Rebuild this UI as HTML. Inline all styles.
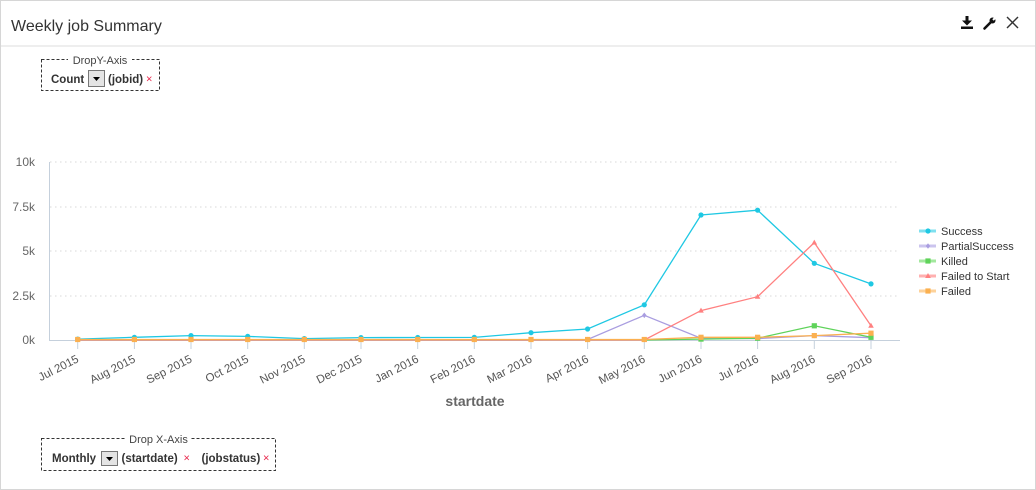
<!DOCTYPE html>
<html><head><meta charset="utf-8"><style>
html,body{margin:0;padding:0;background:#fff;}
body{width:1036px;height:490px;overflow:hidden;font-family:"Liberation Sans",Arial,sans-serif;}
svg{display:block;}
</style></head><body>
<svg width="1036" height="490" viewBox="0 0 1036 490" xmlns="http://www.w3.org/2000/svg" font-family="Liberation Sans, Arial, sans-serif">
<defs>
<circle id="mS" r="2.6" fill="#1fc8e3"/>
<path id="mP" d="M0,-2.8 L2.2,0 L0,2.8 L-2.2,0Z" fill="#a99de0"/>
<rect id="mK" x="-2.6" y="-2.6" width="5.2" height="5.2" fill="#5fd35a"/>
<path id="mF" d="M0,-3 L2.8,2 L-2.8,2Z" fill="#ff8080"/>
<rect id="mO" x="-2.6" y="-2.6" width="5.2" height="5.2" fill="#fbb050"/>
</defs>
<rect x="0.5" y="0.5" width="1035" height="489" fill="#fff" stroke="#d6d6d6"/>
<line x1="1" y1="46" x2="1035" y2="46" stroke="#dedede"/>
<text x="11" y="31" font-size="16" fill="#333">Weekly job Summary</text>
<!-- icons -->
<g fill="#111">
<rect x="961" y="26.5" width="12" height="2.5"/>
<rect x="965.5" y="16" width="3" height="5"/>
<path d="M962,20.5 L972,20.5 L967,25.5Z"/>
</g>
<g stroke="#111" fill="none">
<line x1="984.5" y1="28.5" x2="991" y2="22" stroke-width="2.6" stroke-linecap="round"/>
<circle cx="992.5" cy="20.5" r="3" fill="#111" stroke="none"/>
<line x1="993" y1="20" x2="996.5" y2="16.5" stroke="#fff" stroke-width="2"/>
</g>
<g stroke="#333" stroke-width="1.4">
<line x1="1007" y1="17" x2="1018" y2="28"/>
<line x1="1018" y1="17" x2="1007" y2="28"/>
</g>
<!-- Y drop box -->
<rect x="41.5" y="59.5" width="118" height="31" fill="none" stroke="#333" stroke-dasharray="3,2"/>
<rect x="68" y="55" width="64" height="10" fill="#fff"/>
<text x="100" y="64" font-size="11" fill="#444" text-anchor="middle">DropY-Axis</text>
<text x="51" y="83" font-size="11.5" font-weight="bold" fill="#333">Count</text>
<rect x="88.5" y="70.5" width="16" height="16" fill="#e4e4e4" stroke="#777"/>
<path d="M93,77 L100,77 L96.5,81Z" fill="#000"/>
<text x="108" y="83" font-size="11.5" font-weight="bold" fill="#333">(jobid)</text>
<text x="146" y="82.5" font-size="11" fill="#e8254a">×</text>
<!-- X drop box -->
<rect x="41.5" y="438.5" width="234" height="32" fill="none" stroke="#333" stroke-dasharray="3,2"/>
<rect x="126" y="433" width="65" height="11" fill="#fff"/>
<text x="158.5" y="443" font-size="11" fill="#444" text-anchor="middle">Drop X-Axis</text>
<text x="52" y="462" font-size="11.5" font-weight="bold" fill="#333">Monthly</text>
<rect x="101.5" y="451.5" width="16" height="14" fill="#e4e4e4" stroke="#777"/>
<path d="M106,457 L113,457 L109.5,461Z" fill="#000"/>
<text x="121.5" y="462" font-size="11.5" font-weight="bold" fill="#333">(startdate)</text>
<text x="183.5" y="461.5" font-size="11" fill="#e8254a">×</text>
<text x="201.5" y="462" font-size="11.5" font-weight="bold" fill="#333">(jobstatus)</text>
<text x="263" y="461.5" font-size="11" fill="#e8254a">×</text>
<!-- grid -->
<g stroke="#d8d8d8" stroke-dasharray="1.5,3.5">
<line x1="50" y1="162" x2="900" y2="162"/>
<line x1="50" y1="207" x2="900" y2="207"/>
<line x1="50" y1="251" x2="900" y2="251"/>
<line x1="50" y1="296" x2="900" y2="296"/>
</g>
<line x1="49.5" y1="162" x2="49.5" y2="340" stroke="#c5d0dc"/>
<line x1="49" y1="340.5" x2="900" y2="340.5" stroke="#c5d0dc"/>
<g stroke="#c5d0dc">
<line x1="77.7" y1="340" x2="77.7" y2="349"/><line x1="134.4" y1="340" x2="134.4" y2="349"/><line x1="191" y1="340" x2="191" y2="349"/><line x1="247.7" y1="340" x2="247.7" y2="349"/><line x1="304.3" y1="340" x2="304.3" y2="349"/><line x1="361" y1="340" x2="361" y2="349"/><line x1="417.7" y1="340" x2="417.7" y2="349"/><line x1="474.3" y1="340" x2="474.3" y2="349"/><line x1="531" y1="340" x2="531" y2="349"/><line x1="587.6" y1="340" x2="587.6" y2="349"/><line x1="644.3" y1="340" x2="644.3" y2="349"/><line x1="701" y1="340" x2="701" y2="349"/><line x1="757.6" y1="340" x2="757.6" y2="349"/><line x1="814.3" y1="340" x2="814.3" y2="349"/><line x1="871" y1="340" x2="871" y2="349"/>
</g>
<g font-size="12" fill="#666" text-anchor="end">
<text x="35" y="166">10k</text>
<text x="35" y="211">7.5k</text>
<text x="35" y="255">5k</text>
<text x="35" y="300">2.5k</text>
<text x="35" y="344">0k</text>
</g>
<g font-size="11.5" fill="#555" text-anchor="end">
<text transform="translate(79.5,361.5) rotate(-27)">Jul 2015</text>
<text transform="translate(136.2,361.5) rotate(-27)">Aug 2015</text>
<text transform="translate(192.8,361.5) rotate(-27)">Sep 2015</text>
<text transform="translate(249.5,361.5) rotate(-27)">Oct 2015</text>
<text transform="translate(306.1,361.5) rotate(-27)">Nov 2015</text>
<text transform="translate(362.8,361.5) rotate(-27)">Dec 2015</text>
<text transform="translate(419.5,361.5) rotate(-27)">Jan 2016</text>
<text transform="translate(476.1,361.5) rotate(-27)">Feb 2016</text>
<text transform="translate(532.8,361.5) rotate(-27)">Mar 2016</text>
<text transform="translate(589.4,361.5) rotate(-27)">Apr 2016</text>
<text transform="translate(646.1,361.5) rotate(-27)">May 2016</text>
<text transform="translate(702.8,361.5) rotate(-27)">Jun 2016</text>
<text transform="translate(759.4,361.5) rotate(-27)">Jul 2016</text>
<text transform="translate(816.1,361.5) rotate(-27)">Aug 2016</text>
<text transform="translate(872.8,361.5) rotate(-27)">Sep 2016</text>
</g>
<text x="475" y="406" font-size="14" font-weight="bold" fill="#666" text-anchor="middle">startdate</text>
<!-- series -->
<g fill="none" stroke-width="1.3">
<polyline stroke="#1fc8e3" points="77.7,339.1 134.4,337.3 191,335.6 247.7,336.4 304.3,338.6 361,337.6 417.7,337.5 474.3,337.4 531,332.7 587.6,329 644.3,304.8 701,215 757.6,210.2 814.3,263.3 871,283.9"/>
<polyline stroke="#a99de0" points="77.7,340 134.4,340 191,340 247.7,340 304.3,340 361,340 417.7,340 474.3,340 531,340 587.6,339.5 644.3,315.3 701,338.2 757.6,338.6 814.3,335.6 871,337.7"/>
<polyline stroke="#5fd35a" points="77.7,340 134.4,340 191,340 247.7,340 304.3,340 361,340 417.7,340 474.3,340 531,340 587.6,340 644.3,340 701,339.1 757.6,338.2 814.3,325.8 871,337.3"/>
<polyline stroke="#ff8080" points="77.7,340 134.4,340 191,340 247.7,340 304.3,340 361,340 417.7,340 474.3,340 531,340 587.6,340 644.3,340 701,310.6 757.6,296.7 814.3,242.6 871,325.8"/>
<polyline stroke="#fbb050" points="77.7,339.5 134.4,339.5 191,339.5 247.7,339.5 304.3,339.5 361,339.5 417.7,339.5 474.3,339.5 531,339.5 587.6,339.5 644.3,339.5 701,337.3 757.6,337.3 814.3,335.6 871,333.2"/>
</g>
<g>
<use href="#mS" x="77.7" y="339.1"/><use href="#mS" x="134.4" y="337.3"/><use href="#mS" x="191" y="335.6"/><use href="#mS" x="247.7" y="336.4"/><use href="#mS" x="304.3" y="338.6"/><use href="#mS" x="361" y="337.6"/><use href="#mS" x="417.7" y="337.5"/><use href="#mS" x="474.3" y="337.4"/><use href="#mS" x="531" y="332.7"/><use href="#mS" x="587.6" y="329"/><use href="#mS" x="644.3" y="304.8"/><use href="#mS" x="701" y="215"/><use href="#mS" x="757.6" y="210.2"/><use href="#mS" x="814.3" y="263.3"/><use href="#mS" x="871" y="283.9"/>
<use href="#mP" x="587.6" y="339.5"/><use href="#mP" x="644.3" y="315.3"/><use href="#mP" x="701" y="338.2"/><use href="#mP" x="757.6" y="338.6"/><use href="#mP" x="814.3" y="335.6"/><use href="#mP" x="871" y="337.7"/>
<use href="#mK" x="701" y="339.1"/><use href="#mK" x="757.6" y="338.2"/><use href="#mK" x="814.3" y="325.8"/><use href="#mK" x="871" y="337.3"/>
<use href="#mF" x="644.3" y="340"/><use href="#mF" x="701" y="310.6"/><use href="#mF" x="757.6" y="296.7"/><use href="#mF" x="814.3" y="242.6"/><use href="#mF" x="871" y="325.8"/>
<use href="#mO" x="77.7" y="339.5"/><use href="#mO" x="134.4" y="339.5"/><use href="#mO" x="191" y="339.5"/><use href="#mO" x="247.7" y="339.5"/><use href="#mO" x="304.3" y="339.5"/><use href="#mO" x="361" y="339.5"/><use href="#mO" x="417.7" y="339.5"/><use href="#mO" x="474.3" y="339.5"/><use href="#mO" x="531" y="339.5"/><use href="#mO" x="587.6" y="339.5"/><use href="#mO" x="644.3" y="339.5"/><use href="#mO" x="701" y="337.3"/><use href="#mO" x="757.6" y="337.3"/><use href="#mO" x="814.3" y="335.6"/><use href="#mO" x="871" y="333.2"/>
</g>
<!-- legend -->
<g stroke-width="3">
<line x1="919" y1="231" x2="936" y2="231" stroke="#7fe0ef"/>
<line x1="919" y1="246" x2="936" y2="246" stroke="#cbc4ee"/>
<line x1="919" y1="261" x2="936" y2="261" stroke="#a3e89e"/>
<line x1="919" y1="276" x2="936" y2="276" stroke="#ffb0b0"/>
<line x1="919" y1="291" x2="936" y2="291" stroke="#fdd29a"/>
</g>
<use href="#mS" x="928" y="231"/>
<use href="#mP" x="928" y="246"/>
<use href="#mK" x="928" y="261"/>
<use href="#mF" x="928" y="276"/>
<use href="#mO" x="928" y="291"/>
<g font-size="11" fill="#333">
<text x="941" y="235">Success</text>
<text x="941" y="250">PartialSuccess</text>
<text x="941" y="265">Killed</text>
<text x="941" y="280">Failed to Start</text>
<text x="941" y="295">Failed</text>
</g>
</svg>
</body></html>
